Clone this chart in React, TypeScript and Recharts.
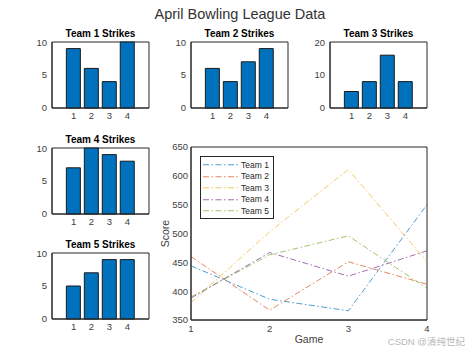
import React from "react";
import {
  BarChart,
  Bar,
  LineChart,
  Line,
  XAxis,
  YAxis,
  Legend,
  ReferenceArea,
} from "recharts";

const games = [1, 2, 3, 4];

const team1Strikes = [9, 6, 4, 10];
const team2Strikes = [6, 4, 7, 9];
const team3Strikes = [5, 8, 16, 8];
const team4Strikes = [7, 10, 9, 8];
const team5Strikes = [5, 7, 9, 9];

const team1Scores = [444, 386, 366, 550];
const team2Scores = [460, 367, 451, 412];
const team3Scores = [380, 503, 611, 451];
const team4Scores = [388, 467, 426, 470];
const team5Scores = [390, 463, 496, 405];

const teamNames = ["Team 1", "Team 2", "Team 3", "Team 4", "Team 5"];
const strikeTicks10 = [0, 5, 10];
const strikeTicks20 = [0, 10, 20];
const scoreTicks = [350, 400, 450, 500, 550, 600, 650];
const barXLimits = [-0.2, 5.2];

const FONT = '"Liberation Sans", Arial, Helvetica, sans-serif';
const AXIS = "#262626";
const TICK = "#404040";
const lineColors = ["#0072BD", "#D95319", "#EDB120", "#7E2F8E", "#77AC30"];
const DASH = "6 2.5 1.5 2.5";

const scoreRows = games.map((g, i) => ({
  game: g,
  t1: team1Scores[i],
  t2: team2Scores[i],
  t3: team3Scores[i],
  t4: team4Scores[i],
  t5: team5Scores[i],
}));

interface SmallBarProps {
  title: string;
  values: number[];
  ticks: number[];
  left: number;
  top: number;
}

// one "Team N Strikes" tile; left/top is the plot box corner
const SmallBar = ({ title, values, ticks, left, top }: SmallBarProps) => {
  const w = 97;
  const h = 66;
  const yw = 40;
  const tm = 4;
  const xh = 20;
  const rm = 4;
  const rows = games.map((g, i) => ({ game: g, strikes: values[i] }));
  const yMin = ticks[0];
  const yMax = ticks[ticks.length - 1];
  return (
    <>
      <div
        style={{
          position: "absolute",
          left,
          top: top - 14,
          width: w,
          textAlign: "center",
          fontWeight: "bold",
          fontSize: 10,
          lineHeight: "12px",
          color: "#000",
          whiteSpace: "nowrap",
        }}
      >
        {title}
      </div>
      <div style={{ position: "absolute", left: left - yw, top: top - tm }}>
        <BarChart
          width={yw + w + rm}
          height={tm + h + xh}
          data={rows}
          margin={{ top: tm, right: rm, bottom: 0, left: 0 }}
          barCategoryGap="10%"
        >
          <XAxis
            dataKey="game"
            type="number"
            domain={barXLimits}
            ticks={games}
            allowDataOverflow
            tickLine={false}
            tickSize={2}
            tickMargin={2}
            height={xh}
            axisLine={{ stroke: AXIS }}
            tick={{ fontSize: 9.5, fill: TICK, fontFamily: FONT }}
          />
          <YAxis
            domain={[yMin, yMax]}
            ticks={ticks}
            width={yw}
            tickLine={false}
            tickSize={3}
            tickMargin={2}
            axisLine={{ stroke: AXIS }}
            tick={{ fontSize: 9.5, fill: TICK, fontFamily: FONT }}
          />
          <ReferenceArea
            x1={barXLimits[0]}
            x2={barXLimits[1]}
            y1={yMin}
            y2={yMax}
            fill="none"
            stroke={AXIS}
            strokeWidth={1}
          />
          <Bar
            dataKey="strikes"
            fill="#0072BD"
            stroke="#1a1a1a"
            strokeWidth={1}
            isAnimationActive={false}
          />
        </BarChart>
      </div>
    </>
  );
};

const ScoreLegend = ({ payload }: any) => {
  if (!payload) return null;
  return (
    <div
      style={{
        border: `1px solid ${AXIS}`,
        background: "#fff",
        padding: "2px 4px 1px 2px",
        fontFamily: FONT,
        fontSize: 8.5,
        color: "#262626",
      }}
    >
      {payload.map((p: any) => (
        <div
          key={p.value}
          style={{ display: "flex", alignItems: "center", height: 11.5 }}
        >
          <svg width={37} height={11.5}>
            <line
              x1={0}
              x2={37}
              y1={5.75}
              y2={5.75}
              stroke={p.color}
              strokeOpacity={0.7}
              strokeDasharray={DASH}
            />
          </svg>
          <span style={{ marginLeft: 1, whiteSpace: "nowrap" }}>{p.value}</span>
        </div>
      ))}
    </div>
  );
};

const ScoreChart = () => {
  const left = 191;
  const top = 147;
  const w = 236;
  const h = 173;
  const yw = 51;
  const tm = 8;
  const xh = 38;
  const rm = 10;
  const keys = ["t1", "t2", "t3", "t4", "t5"];
  return (
    <div style={{ position: "absolute", left: left - yw, top: top - tm }}>
      <LineChart
        width={yw + w + rm}
        height={tm + h + xh}
        data={scoreRows}
        margin={{ top: tm, right: rm, bottom: 0, left: 0 }}
      >
        <XAxis
          dataKey="game"
          type="number"
          domain={[1, 4]}
          ticks={games}
          tickLine={false}
          tickSize={3}
          tickMargin={2}
          height={xh}
          axisLine={{ stroke: AXIS }}
          tick={{ fontSize: 9.5, fill: TICK, fontFamily: FONT }}
          label={{
            value: "Game",
            position: "center",
            fontSize: 10.5,
            fill: TICK,
            fontFamily: FONT,
          }}
        />
        <YAxis
          domain={[350, 650]}
          ticks={scoreTicks}
          width={yw}
          allowDataOverflow
          tickLine={false}
          tickSize={1}
          tickMargin={2}
          axisLine={{ stroke: AXIS }}
          tick={{ fontSize: 9.5, fill: TICK, fontFamily: FONT }}
          label={{
            value: "Score",
            angle: -90,
            position: "center",
            fontSize: 10.5,
            fill: TICK,
            fontFamily: FONT,
          }}
        />
        <ReferenceArea
          x1={1}
          x2={4}
          y1={350}
          y2={650}
          fill="none"
          stroke={AXIS}
          strokeWidth={1}
        />
        {keys.map((k, i) => (
          <Line
            key={k}
            type="linear"
            dataKey={k}
            name={teamNames[i]}
            stroke={lineColors[i]}
            strokeOpacity={0.7}
            strokeWidth={1}
            strokeDasharray={DASH}
            dot={false}
            isAnimationActive={false}
          />
        ))}
        <Legend
          layout="vertical"
          align="center"
          verticalAlign="middle"
          wrapperStyle={{ left: 60, top: 17, width: "auto" }}
          content={<ScoreLegend />}
        />
      </LineChart>
    </div>
  );
};

export default function App() {
  return (
    <div
      style={{
        position: "absolute",
        left: 0,
        top: 0,
        width: 474,
        height: 355,
        overflow: "hidden",
        background: "#fff",
        fontFamily: FONT,
      }}
    >
      <div
        style={{
          position: "absolute",
          left: 0,
          top: 5,
          width: 480,
          textAlign: "center",
          fontSize: 14.5,
          lineHeight: "18px",
          color: "#333",
        }}
      >
        April Bowling League Data
      </div>
      <SmallBar title="Team 1 Strikes" values={team1Strikes} ticks={strikeTicks10} left={52} top={42} />
      <SmallBar title="Team 2 Strikes" values={team2Strikes} ticks={strikeTicks10} left={191} top={42} />
      <SmallBar title="Team 3 Strikes" values={team3Strikes} ticks={strikeTicks20} left={330} top={42} />
      <SmallBar title="Team 4 Strikes" values={team4Strikes} ticks={strikeTicks10} left={52} top={148} />
      <SmallBar title="Team 5 Strikes" values={team5Strikes} ticks={strikeTicks10} left={52} top={253} />
      <ScoreChart />
      <div
        style={{
          position: "absolute",
          right: 9,
          top: 336,
          fontSize: 9.5,
          lineHeight: "12px",
          color: "#b8b8b8",
          fontFamily: `${FONT}, "Noto Sans CJK SC"`,
          whiteSpace: "nowrap",
        }}
      >
        CSDN @清纯世纪
      </div>
    </div>
  );
}
